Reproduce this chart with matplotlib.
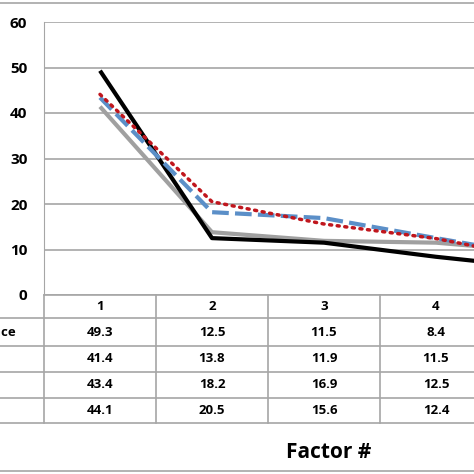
import matplotlib
matplotlib.use("Agg")
import matplotlib.pyplot as plt
from matplotlib.lines import Line2D

plt.rcParams["font.family"] = ["Open Sans", "DejaVu Sans"]

factors = [1, 2, 3, 4, 5]
reference = [49.3, 12.5, 11.5, 8.4, 5.8]
series_b = [41.4, 13.8, 11.9, 11.5, 9.4]
study1 = [43.4, 18.2, 16.9, 12.5, 8.2]
study2 = [44.1, 20.5, 15.6, 12.4, 7.6]
row_labels = ["Reference", "", "Study 1", "Study 2"]
table_rows = [reference, series_b, study1, study2]
shown_cols = 4  # the fifth column is cut off by the picture edge

W = H = 474
fig = plt.figure(figsize=(4.74, 4.74), dpi=100)

# plot area: x 44..604 px (cut off at the right), y 22..295 px
left, colw = 44, 112
ax = fig.add_axes([left / W, 1 - 295 / H, 5 * colw / W, (295 - 22) / H])
ax.set_xlim(0.5, 5.5)
ax.set_ylim(0, 60)
ax.set_yticks(range(0, 61, 10))
ax.tick_params(axis="y", length=0, labelsize=11, pad=12)
for t in ax.get_yticklabels():
    t.set_fontweight("bold")
ax.set_xticks([])
ax.grid(axis="y", color="#a6a6a6", lw=1.2)
for s in ["top", "right", "bottom"]:
    ax.spines[s].set_visible(False)
ax.spines["left"].set_color("#a6a6a6")

ax.plot(factors, series_b, color="#a0a0a0", lw=3, solid_capstyle="butt")
ax.plot(factors, reference, color="black", lw=3, solid_capstyle="butt")
ax.plot(factors, study1, color="#5b8fc8", lw=3, ls=(0, (4, 1.5)))
ax.plot(factors, study2, color="#c0161d", lw=2.5, ls=(0, (0.6, 1.6)), dash_capstyle="round")

# table below
def px(x, y):
    return x / W, 1 - y / H

grey = "#a6a6a6"
row_y = [295, 318, 346, 372, 398, 423]
for y in row_y:
    x0 = left if y == 295 else 0
    fig.add_artist(Line2D([x0 / W, 1], [1 - y / H] * 2, color=grey, lw=1.2))
for i in range(5):
    x = left + i * colw
    fig.add_artist(Line2D([x / W] * 2, [1 - 295 / H, 1 - 423 / H], color=grey, lw=1.2))

fs = 9.5
for i in range(shown_cols):
    cx = left + (i + 0.5) * colw
    fig.text(*px(cx, 307), str(factors[i]), ha="center", va="center", fontsize=fs, fontweight="bold")
    for r, vals in enumerate(table_rows):
        cy = (row_y[r + 1] + row_y[r + 2]) / 2
        fig.text(*px(cx, cy), f"{vals[i]:.1f}", ha="center", va="center",
                 fontsize=fs, fontweight="bold")
for r, lab in enumerate(row_labels):
    cy = (row_y[r + 1] + row_y[r + 2]) / 2
    fig.text(*px(-50, cy), lab, ha="left", va="center", fontsize=fs, fontweight="bold")

fig.text(*px(329, 452), "Factor #", ha="center", va="center", fontsize=15, fontweight="bold")

# outer frame lines
fig.add_artist(Line2D([0, 1], [1 - 3 / H] * 2, color=grey, lw=1.2))
fig.add_artist(Line2D([0, 1], [1 - 471 / H] * 2, color=grey, lw=1.2))

fig.savefig("out.png", dpi=100)
